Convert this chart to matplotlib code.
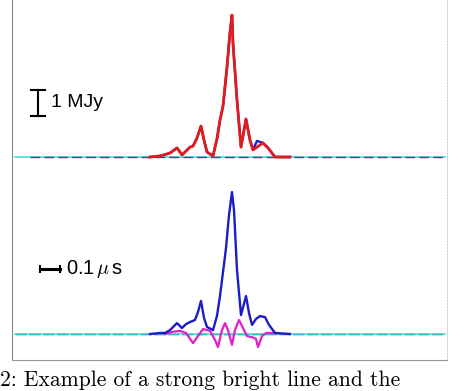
import numpy as np
import matplotlib.pyplot as plt

plt.rcParams['mathtext.fontset'] = 'cm'

# time axis in microseconds, amplitude in MJy
t_top = [0.69, 0.74, 0.79, 0.825, 0.85, 0.87, 0.89, 0.905, 0.925, 0.945, 0.96, 0.975,
         1.005, 1.025, 1.04, 1.055, 1.075, 1.09, 1.10, 1.105, 1.125, 1.145, 1.17, 1.19,
         1.205, 1.225, 1.255, 1.28, 1.315, 1.39]
top_blue = [0.0, 0.04, 0.15, 0.35, 0.08, 0.23, 0.38, 0.42, 0.73, 1.19, 0.65, 0.19,
            0.04, 0.7, 1.42, 1.95, 3.46, 4.8, 5.46, 4.38, 2.19, 0.38, 1.46, 0.65,
            0.27, 0.62, 0.54, 0.35, 0.0, 0.0]
top_red = [0.0, 0.04, 0.15, 0.35, 0.08, 0.23, 0.38, 0.42, 0.73, 1.19, 0.65, 0.19,
           0.04, 0.7, 1.42, 1.95, 3.46, 4.8, 5.46, 4.38, 2.19, 0.38, 1.46, 0.65,
           0.27, 0.38, 0.54, 0.35, 0.0, 0.0]

t_bot = [0.69, 0.74, 0.765, 0.79, 0.825, 0.85, 0.87, 0.89, 0.915, 0.93, 0.945, 0.96,
         0.975, 1.005, 1.025, 1.04, 1.07, 1.085, 1.10, 1.11, 1.125, 1.145, 1.17, 1.185,
         1.20, 1.22, 1.24, 1.265, 1.285, 1.315, 1.39]
bot_blue = [0.0, 0.04, 0.04, 0.15, 0.42, 0.23, 0.38, 0.46, 0.54, 0.85, 1.27, 0.62,
            0.27, 0.15, 0.7, 1.46, 3.3, 4.58, 5.46, 4.77, 2.46, 0.73, 1.46, 0.81,
            0.35, 0.58, 0.69, 0.65, 0.35, 0.04, 0.0]

t_mag = [0.765, 0.80, 0.84, 0.87, 0.905, 0.93, 0.955, 0.99, 1.015, 1.03, 1.05, 1.065,
         1.08, 1.10, 1.115, 1.135, 1.155, 1.175, 1.20, 1.22, 1.23, 1.25, 1.27, 1.315]
bot_mag = [0.0, 0.08, 0.12, 0.04, -0.35, -0.08, 0.19, 0.12, -0.23, -0.5, 0.15, 0.42,
           0.15, -0.42, 0.15, 0.54, 0.23, -0.08, -0.12, -0.19, -0.5, -0.08, 0.04, 0.04]

offset = 6.81   # vertical separation of the two panels
t_end = 2.165

fig = plt.figure(figsize=(4.74, 3.91), dpi=100)
ax = fig.add_axes([12 / 474, 31 / 391, 435 / 474, 360 / 391])
ax.set_xlim(0, 2.175)
ax.set_ylim(-1.0, 12.85)
ax.set_xticks([])
ax.set_yticks([])
ax.spines['top'].set_visible(False)
ax.spines['left'].set_color('#888888')
ax.spines['bottom'].set_color('#999999')
ax.spines['right'].set_color('#cccccc')
ax.spines['right'].set_linestyle(':')

cyan = '#40dede'
blue = '#1c1cc8'

# top panel
ax.plot([0.015, t_end], [offset, offset], color=cyan, lw=1.2)
ax.plot([0.09, t_end], [offset, offset], color='#4a4a70', lw=1.0, dashes=(7, 3))
ax.plot(t_top, np.array(top_blue) + offset, color=blue, lw=1.7, solid_joinstyle='round')
ax.plot(t_top, np.array(top_red) + offset, color='#e01c1c', lw=2.0, solid_joinstyle='round')

# bottom panel
ax.plot([0.015, t_end], [0, 0], color='#2a2a7a', lw=1.0, dashes=(8, 2))
ax.plot([0.015, t_end], [0, 0], color=cyan, lw=1.1)
ax.plot(t_mag, bot_mag, color='#e020c8', lw=1.6, solid_joinstyle='round')
ax.plot(t_bot, bot_blue, color=blue, lw=1.7, solid_joinstyle='round')

# scale bars
bx, by = 0.13, offset + 1.58
ax.plot([bx, bx], [by, by + 1.0], color='black', lw=1.5)
ax.plot([bx - 0.035, bx + 0.035], [by, by], color='black', lw=1.5)
ax.plot([bx - 0.035, bx + 0.035], [by + 1.0, by + 1.0], color='black', lw=1.5)
ax.text(0.195, by + 0.5, '1 MJy', fontsize=14, family='Liberation Sans',
        va='center', ha='left')

sx, sy = 0.14, 2.5
ax.plot([sx, sx + 0.1], [sy, sy], color='black', lw=2.2)
ax.plot([sx, sx], [sy - 0.12, sy + 0.12], color='black', lw=1.5)
ax.plot([sx + 0.1, sx + 0.1], [sy - 0.12, sy + 0.12], color='black', lw=1.5)
ax.text(0.27, sy, r'0.1$\,\mu\,$s', fontsize=14.5, family='Liberation Sans',
        va='center', ha='left')

fig.text(0.0, 1 / 391, '2: Example of a strong bright line and the',
         fontsize=15.5, family='cmr10', va='bottom', ha='left')

fig.savefig('out.png', dpi=100)
